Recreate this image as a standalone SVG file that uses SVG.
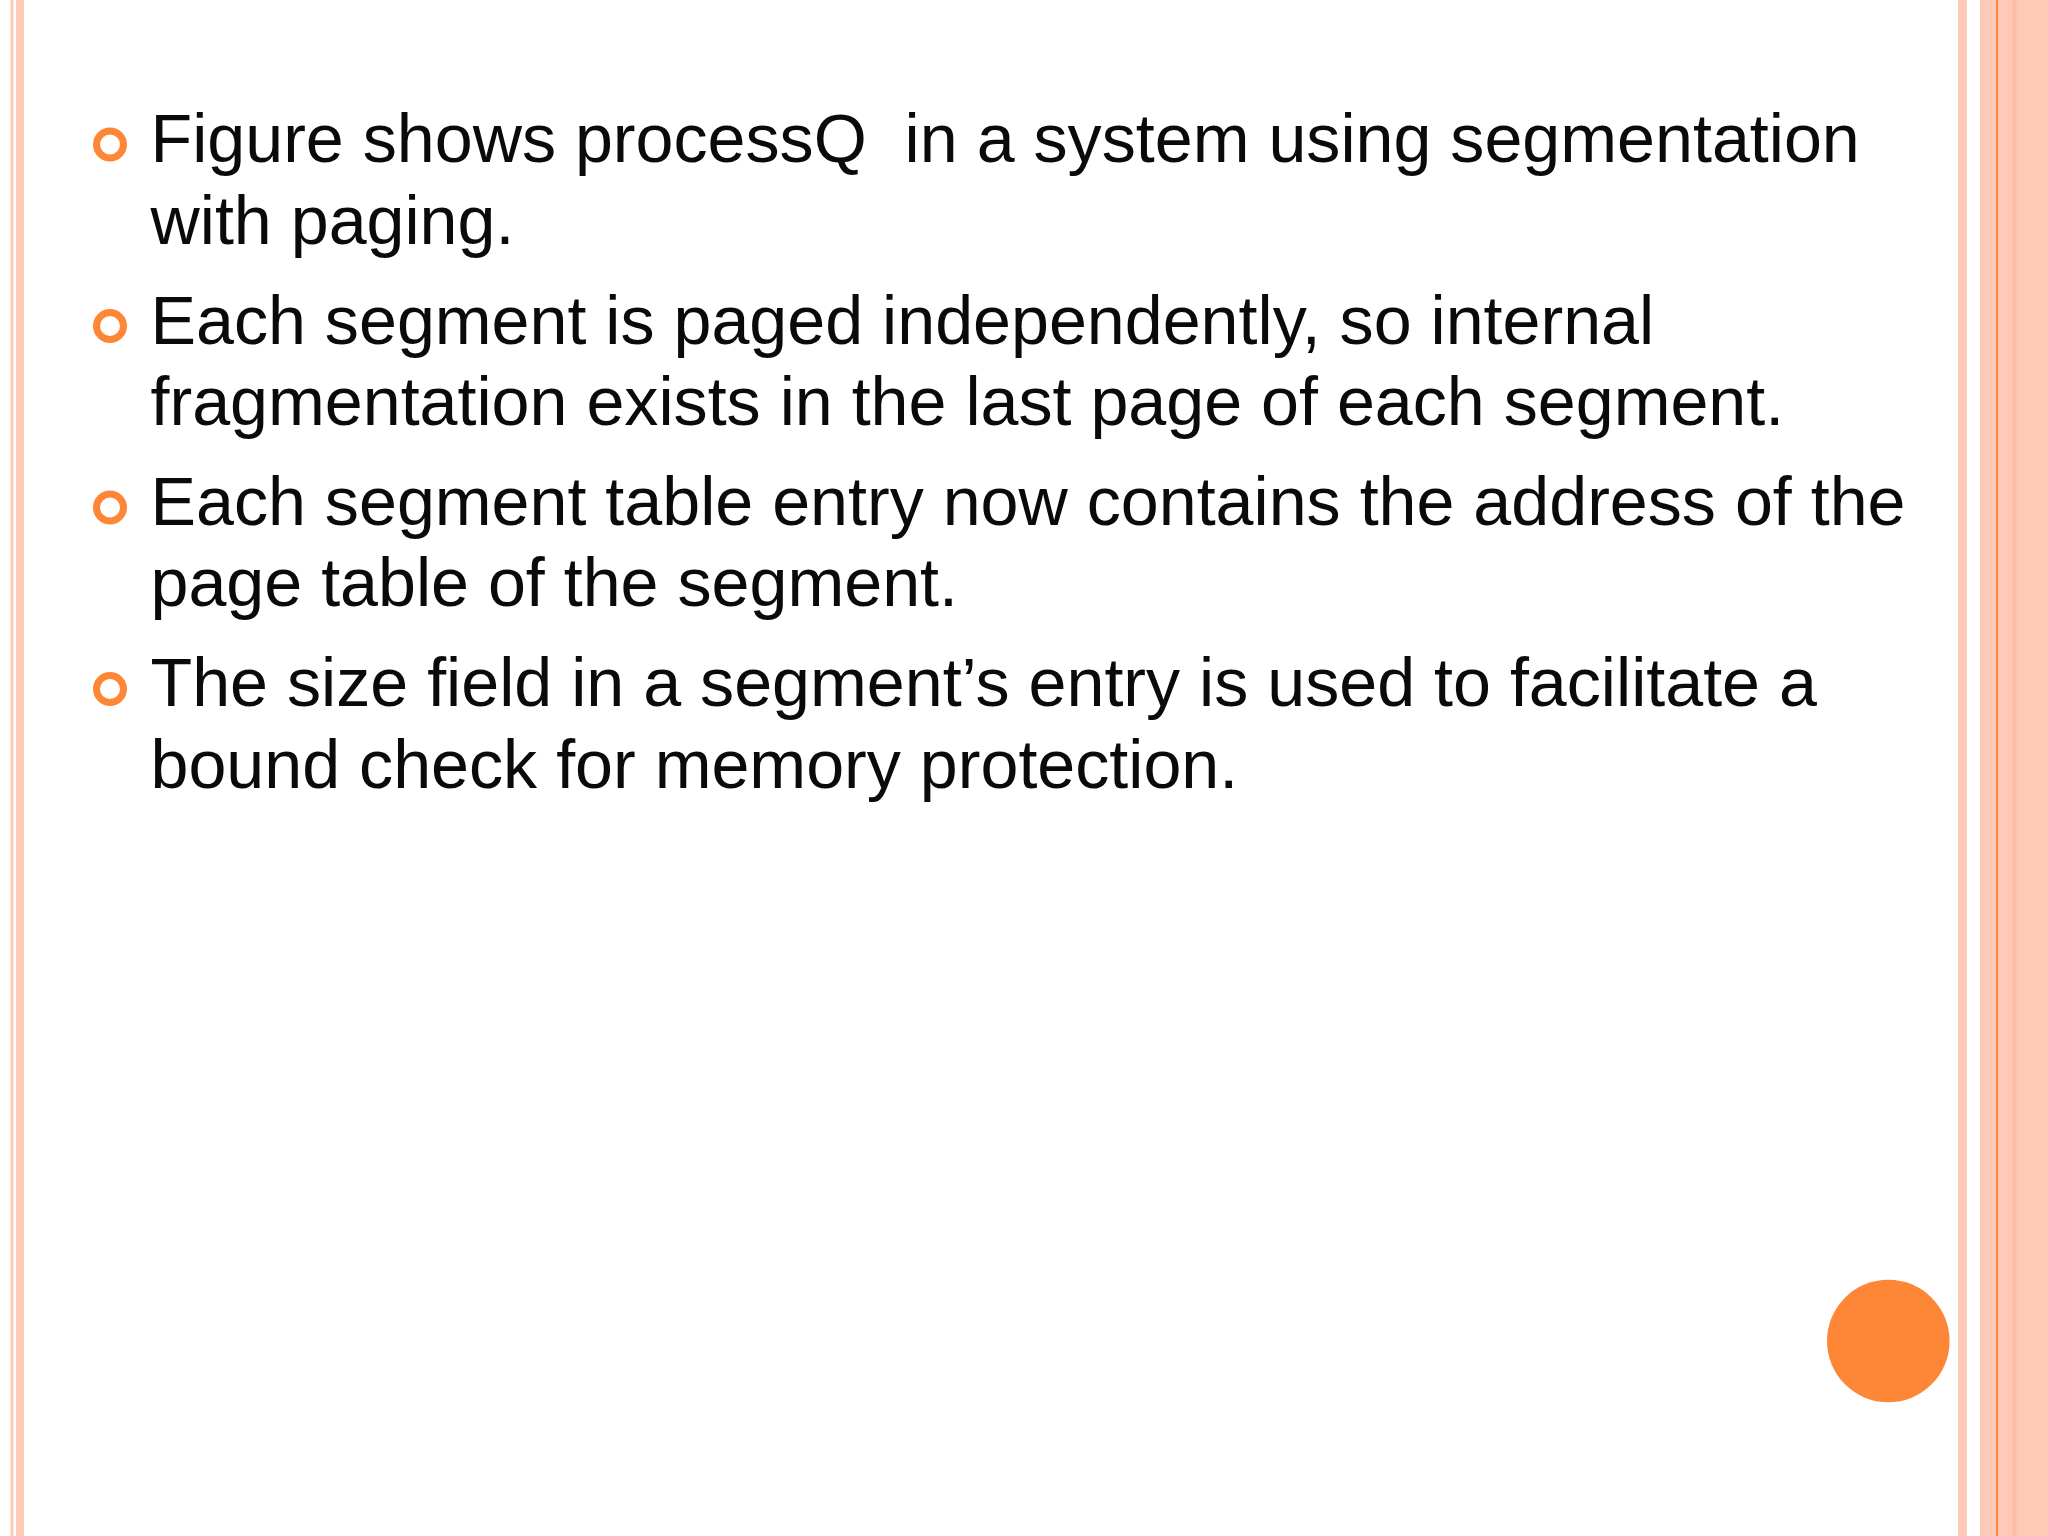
<svg xmlns="http://www.w3.org/2000/svg" width="2048" height="1536" viewBox="0 0 2048 1536">
<style>
.b{fill:none;stroke:#fe8637;stroke-width:7}
.t{font-family:"Liberation Sans",Arial,sans-serif;font-size:68.2px;fill:#0a0a0a;white-space:pre}
.s{fill:#fec9b6}
</style>
<rect width="2048" height="1536" fill="#fff"/>
<g id="frame">
<rect class="s" x="10.5" y="0" width="3" height="1536"/>
<rect class="s" x="16" y="0" width="8" height="1536"/>
<rect class="s" x="1958" y="0" width="9" height="1536"/>
<rect class="s" x="1980" y="0" width="68" height="1536"/>
<rect x="1996" y="0" width="2" height="1536" fill="#fe8637"/>
<rect x="2012.5" y="0" width="4" height="1536" fill="#fdbda6"/>
</g>
<g id="page-dot"><circle cx="1888.3" cy="1341" r="61.3" fill="#fe8637"/></g>
<g id="item1"><circle class="b" cx="110" cy="144.5" r="13.5"/>
<text class="t" x="150.5" y="162">Figure shows processQ  in a system using segmentation</text>
<text class="t" x="150.5" y="244">with paging.</text></g>
<g id="item2"><circle class="b" cx="110" cy="326" r="13.5"/>
<text class="t" x="150.5" y="343.5">Each segment is paged independently, so internal</text>
<text class="t" x="150.5" y="425">fragmentation exists in the last page of each segment.</text></g>
<g id="item3"><circle class="b" cx="110" cy="507.5" r="13.5"/>
<text class="t" x="150.5" y="524.5">Each segment table entry now contains the address of the</text>
<text class="t" x="150.5" y="606">page table of the segment.</text></g>
<g id="item4"><circle class="b" cx="110" cy="689" r="13.5"/>
<text class="t" x="150.5" y="705.5">The size field in a segment’s entry is used to facilitate a</text>
<text class="t" x="150.5" y="787.5">bound check for memory protection.</text></g>
</svg>
